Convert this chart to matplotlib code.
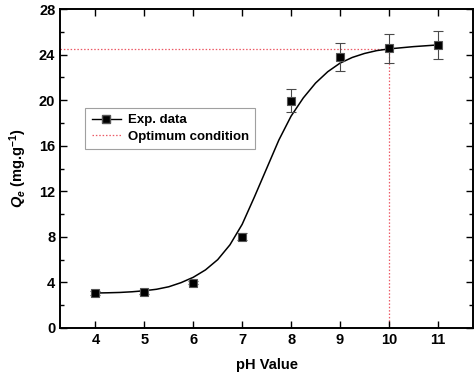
"""Adsorption capacity versus pH with fitted sigmoid and optimum marker."""

import matplotlib

matplotlib.use("Agg")
import matplotlib.pyplot as plt
from matplotlib.lines import Line2D

# measured points
ph_values = [4, 5, 6, 7, 8, 9, 10, 11]
qe_values = [3.07, 3.16, 3.99, 8.0, 19.95, 23.8, 24.55, 24.84]
qe_errors = [0.15, 0.15, 0.15, 0.3, 1.0, 1.2, 1.25, 1.25]

# fitted curve
fit_ph = [4.0, 4.25, 4.5, 4.75, 5.0, 5.25, 5.5, 5.75, 6.0, 6.25, 6.5, 6.75,
          7.0, 7.25, 7.5, 7.75, 8.0, 8.25, 8.5, 8.75, 9.0, 9.25, 9.5, 9.75,
          10.0, 10.5, 11.0]
fit_qe = [3.07, 3.09, 3.12, 3.18, 3.27, 3.4, 3.62, 3.98, 4.45, 5.1, 6.0, 7.3,
          9.1, 11.5, 14.0, 16.5, 18.6, 20.2, 21.5, 22.5, 23.25, 23.75, 24.1, 24.35,
          24.5, 24.7, 24.85]

opt_ph = 10
opt_qe = 24.5

x_ticks = [4, 5, 6, 7, 8, 9, 10, 11]
y_ticks = [0, 4, 8, 12, 16, 20, 24, 28]
x_lim = (3.28, 11.72)
y_lim = (0, 28)

plt.rcParams.update({
    "font.family": ["Liberation Sans", "DejaVu Sans"],
    "font.weight": "bold",
    "mathtext.fontset": "custom",
    "mathtext.rm": "Liberation Sans:bold",
    "mathtext.it": "Liberation Sans:italic:bold",
    "mathtext.bf": "Liberation Sans:bold",
})

fig = plt.figure(figsize=(4.74, 3.77), dpi=100)
ax = fig.add_axes([0.127, 0.130, 0.871, 0.846])

opt_color = "#ec5a66"
ax.plot([x_lim[0], opt_ph], [opt_qe, opt_qe], linestyle=(0, (1.2, 1.5)),
        color=opt_color, linewidth=0.9, zorder=1)
ax.plot([opt_ph, opt_ph], [y_lim[0], opt_qe], linestyle=(0, (1.2, 1.5)),
        color=opt_color, linewidth=0.9, zorder=1)

ax.plot(fit_ph, fit_qe, color="black", linewidth=1.1, zorder=2)
ax.errorbar(ph_values, qe_values, yerr=qe_errors, fmt="s", color="black",
            markersize=6, markeredgecolor="#555555", markeredgewidth=0.8,
            ecolor="#4a4a4a", elinewidth=0.8, capsize=3.5, capthick=0.8, zorder=3)

ax.set_xlim(*x_lim)
ax.set_ylim(*y_lim)
ax.set_xticks(x_ticks)
ax.set_yticks(y_ticks)
ax.set_yticks([v + 2 for v in y_ticks[:-1]], minor=True)
ax.tick_params(axis="both", which="both", direction="in", top=True, right=True,
               labelsize=10.5, width=1.0)
ax.tick_params(axis="both", which="major", length=5)
ax.tick_params(axis="both", which="minor", length=3)
for spine in ax.spines.values():
    spine.set_linewidth(1.4)

ax.set_xlabel("pH Value", fontsize=10.5, fontweight="bold", labelpad=8)
ax.set_ylabel(r"$Q_e$ (mg.g$^{-1}$)", fontsize=10.5, fontweight="bold", labelpad=7)

handles = [
    Line2D([], [], color="black", marker="s", markersize=6, linewidth=1.0,
           markeredgecolor="#555555"),
    Line2D([], [], color=opt_color, linestyle=(0, (1.2, 1.5)), linewidth=0.9),
]
leg = ax.legend(handles, ["Exp. data", "Optimum condition"], loc="upper left",
                bbox_to_anchor=(0.045, 0.712), fontsize=9.5, frameon=True,
                fancybox=False, edgecolor="#888888", borderpad=0.5,
                handlelength=2.2, labelspacing=0.3, handletextpad=0.5)
leg.get_frame().set_linewidth(0.8)

fig.savefig("out.png", dpi=100)
